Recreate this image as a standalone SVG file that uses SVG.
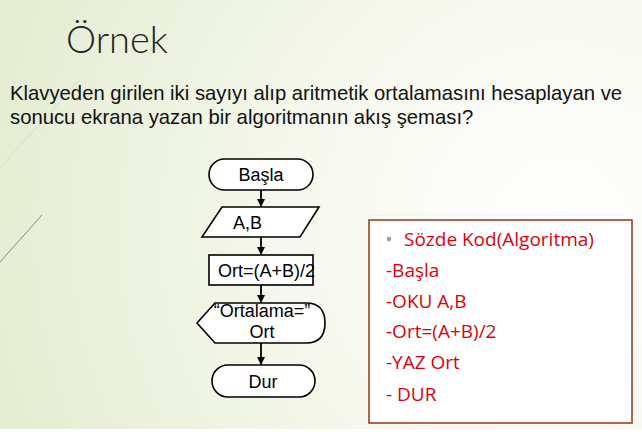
<svg xmlns="http://www.w3.org/2000/svg" width="642" height="440" viewBox="0 0 642 440">
<defs>
<radialGradient id="bg" cx="560" cy="230" r="620" gradientUnits="userSpaceOnUse">
<stop offset="0" stop-color="#ffffff"/>
<stop offset="0.35" stop-color="#f8faf1"/>
<stop offset="1" stop-color="#e3ebcf"/>
</radialGradient>
<marker id="arr" viewBox="0 0 10 10" refX="10" refY="5" markerWidth="8" markerHeight="8" markerUnits="userSpaceOnUse" orient="auto">
<path d="M0,0 L10,5 L0,10 Z" fill="#000"/>
</marker>
<style>
.shape{fill:#fff;stroke:#000;stroke-width:1.6}
.ft{font-family:"Liberation Sans",Arial,sans-serif;font-size:18px;fill:#000}
.conn line{stroke:#000;stroke-width:1.8;marker-end:url(#arr)}
.code{font-family:"Open Sans","Liberation Sans",sans-serif;font-size:19px;fill:#e0000a}
</style>
</defs>
<rect x="0" y="0" width="642" height="440" fill="#ffffff"/>
<rect x="0" y="0" width="642" height="429" fill="url(#bg)"/>
<line x1="80" y1="79" x2="0" y2="168" stroke="#d8dccb" stroke-width="1"/>
<line x1="42" y1="215" x2="0" y2="262" stroke="#8a8a80" stroke-width="1"/>

<text x="66" y="53" font-family="Lato,'Open Sans',sans-serif" font-weight="300" font-size="38" fill="#222">Örnek</text>
<text font-family="'Liberation Sans',Arial,sans-serif" font-size="20.3" fill="#111">
<tspan x="10" y="100">Klavyeden girilen iki sayıyı alıp aritmetik ortalamasını hesaplayan ve</tspan>
<tspan x="10" y="124">sonucu ekrana yazan bir algoritmanın akış şeması?</tspan>
</text>

<g class="conn" id="connectors">
<line x1="261" y1="190" x2="261" y2="207"/>
<line x1="261" y1="237" x2="261" y2="255"/>
<line x1="261" y1="285" x2="261" y2="303"/>
<line x1="261" y1="343" x2="261" y2="365"/>
</g>

<g id="basla">
<rect class="shape" x="209" y="159" width="104" height="31" rx="15.5"/>
<text class="ft" x="261" y="181" text-anchor="middle">Başla</text>
</g>
<g id="input">
<path class="shape" d="M222,207 L319,207 L300,237 L202,237 Z"/>
<text class="ft" x="233" y="229">A,B</text>
</g>
<g id="process">
<rect class="shape" x="209" y="255" width="104" height="30"/>
<text class="ft" x="218" y="277">Ort=(A+B)/2</text>
</g>
<g id="display">
<path class="shape" d="M215,303 L306,303 Q325,303 325,323 Q325,343 306,343 L215,343 L197,323 Z"/>
<text class="ft" x="262" y="317" text-anchor="middle">“Ortalama=”</text>
<text class="ft" x="262" y="338" text-anchor="middle">Ort</text>
</g>
<g id="dur">
<rect class="shape" x="212" y="365" width="103" height="32" rx="16"/>
<text class="ft" x="263" y="388" text-anchor="middle">Dur</text>
</g>

<g id="pseudocode">
<rect x="369" y="220" width="263" height="203" fill="#fff" stroke="#a0401e" stroke-width="1.6"/>
<circle cx="389" cy="239" r="2.3" fill="#9aa58a"/>
<text class="code" x="404" y="246">Sözde Kod(Algoritma)</text>
<text class="code" x="386" y="277">-Başla</text>
<text class="code" x="386" y="308">-OKU A,B</text>
<text class="code" x="386" y="338">-Ort=(A+B)/2</text>
<text class="code" x="386" y="369">-YAZ Ort</text>
<text class="code" x="386" y="401">- DUR</text>
</g>
</svg>
